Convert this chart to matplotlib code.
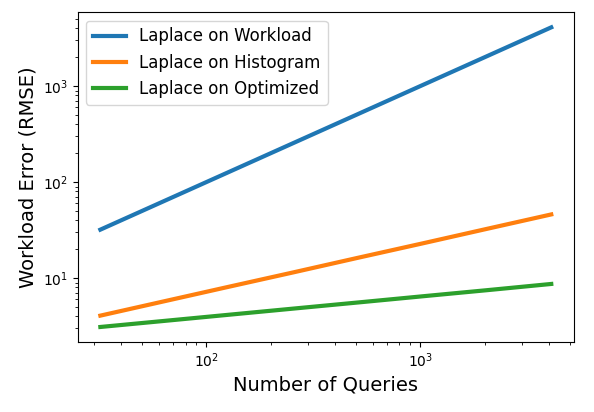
import matplotlib
matplotlib.use('Agg')
import matplotlib.pyplot as plt

queries = [32, 64, 128, 256, 512, 1024, 2048, 4096]
workload = [32, 64, 128, 256, 512, 1024, 2048, 4096]
histogram = [4.07, 5.76, 8.15, 11.5, 16.3, 23.0, 32.6, 46.1]
optimized = [3.1, 3.59, 4.16, 4.82, 5.58, 6.47, 7.49, 8.7]

fig = plt.figure(figsize=(5.94, 4.12), dpi=100)
ax = fig.add_axes([0.131, 0.17, 0.835, 0.80])
ax.loglog(queries, workload, lw=3, label='Laplace on Workload')
ax.loglog(queries, histogram, lw=3, label='Laplace on Histogram')
ax.loglog(queries, optimized, lw=3, label='Laplace on Optimized')
ax.set_xlabel('Number of Queries', fontsize=14)
ax.set_ylabel('Workload Error (RMSE)', fontsize=14)
ax.legend(fontsize=12, loc='upper left')
fig.savefig('out.png')
